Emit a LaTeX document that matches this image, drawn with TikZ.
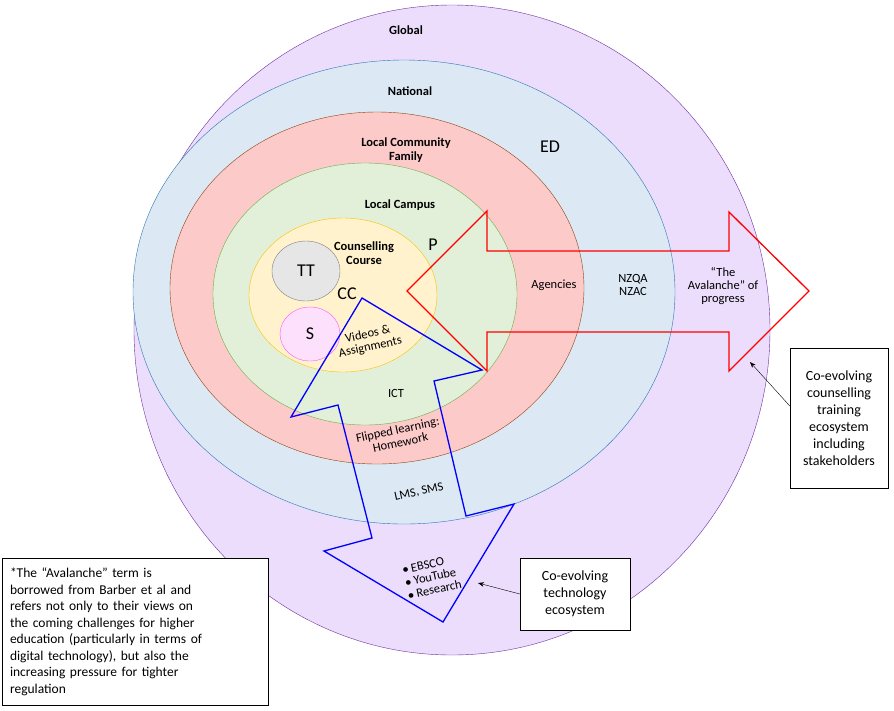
\documentclass[tikz,border=0pt]{standalone}
\usepackage{fontspec}
\setmainfont{Carlito}
\usetikzlibrary{arrows.meta}
\definecolor{gfill}{HTML}{EBDDFB}\definecolor{gline}{HTML}{7030A0}
\definecolor{nfill}{HTML}{DCE8F4}\definecolor{nline}{HTML}{2E75B6}
\definecolor{lfill}{HTML}{FDCACA}\definecolor{lline}{HTML}{8B4513}
\definecolor{cfill}{HTML}{E2EFD9}\definecolor{cline}{HTML}{70AD47}
\definecolor{kfill}{HTML}{FFF2CC}\definecolor{kline}{HTML}{FFC000}
\definecolor{tfill}{HTML}{E7E6E6}\definecolor{tline}{HTML}{7F7F7F}
\definecolor{sfill}{HTML}{FCE0FC}\definecolor{sline}{HTML}{FF55FF}
\tikzset{lab/.style={font=\fontsize{12.5}{13}\selectfont,align=center,inner sep=0pt},
 blab/.style={font=\bfseries\fontsize{12.5}{14}\selectfont,align=center},
 big/.style={font=\fontsize{18}{21}\selectfont},
 box/.style={draw,fill=white,align=center,font=\fontsize{14}{17}\selectfont},
 pt/.style={-{Stealth[length=6pt]},thin}}
\begin{document}
\begin{tikzpicture}[x=1pt,y=-1pt]
\useasboundingbox (0,0) rectangle (894,710);
\draw[gline,fill=gfill] (452,330) ellipse [x radius=318,y radius=325];
\draw[nline,fill=nfill] (404,292) ellipse [x radius=271,y radius=232];
\draw[lline,fill=lfill] (377,288) ellipse [x radius=207,y radius=176];
\draw[cline,fill=cfill] (365,294) ellipse [x radius=152,y radius=131];
\draw[kline,fill=kfill] (343,295) ellipse [x radius=94,y radius=77];
\draw[tline,fill=tfill] (306,271) ellipse [x radius=34,y radius=30];
\draw[sline,fill=sfill] (310,334) ellipse [x radius=30,y radius=27];
\node[blab] (glob) at (406,30) {Global};
\node[blab] (nat) at (410,91) {National};
\node[blab] (lcf) at (406,150) {Local Community\\Family};
\node[blab] (lc) at (400,205) {Local Campus};
\node[blab] (cc1) at (364,253) {Counselling\\Course};
\node[big] (ed) at (550,147) {ED};
\node[big] (p) at (433,245) {P};
\node[big] (tt) at (306,271) {TT};
\node[big] (cc) at (347,294) {CC};
\node[big] (s) at (310,334) {S};
\node[lab,rotate=12] (va) at (369,341) {Videos \&\\Assignments};
\node[lab] (ict) at (396,393) {ICT};
\node[lab,rotate=12] (fl) at (399,436) {Flipped learning:\\Homework};
\node[lab,rotate=12] (lms) at (419,492) {LMS, SMS};
\node[lab] (ag) at (554,285) {Agencies};
\node[lab] (nz) at (633,285) {NZQA\\NZAC};
\node[lab] (av) at (723,286) {“The\\Avalanche” of\\progress};
\node[lab,rotate=12,align=left] (eb) at (432,577) {$\bullet$ EBSCO\\$\bullet$ YouTube\\$\bullet$ Research};
\draw[red,line width=1.3pt,line join=miter] (407,291)--(487,211)--(487,251)--(729,251)--(729,212)--(809,291)--(729,371)--(729,332)--(487,332)--(487,371)--cycle;
\draw[blue,line width=1.3pt] (362,298)--(482,370)--(434,381)--(466,516)--(514,504)--(443,622)--(324,551)--(372,538)--(338,405)--(291,417)--cycle;
\node[box,minimum width=98pt,minimum height=140pt] (b1) at (839,418) {Co-evolving\\counselling\\training\\ecosystem\\including\\stakeholders};
\node[box,minimum width=110pt,minimum height=72pt] (b2) at (575,594) {Co-evolving\\technology\\ecosystem};
\node[box,minimum width=266pt,minimum height=147pt,align=left,text width=250pt,font=\fontsize{13.5}{16.5}\selectfont] (b3) at (135,632) {*The “Avalanche” term is\\borrowed from Barber et al and\\refers not only to their views on\\the coming challenges for higher\\education (particularly in terms of\\digital technology), but also the\\increasing pressure for tighter\\regulation};
\coordinate (a1) at (750,362);
\coordinate (a2) at (478,583);
\draw[pt] (b1.west) ++(0,-12) -- (a1);
\draw[pt] (b2.west) -- (a2);
\end{tikzpicture}
\end{document}
